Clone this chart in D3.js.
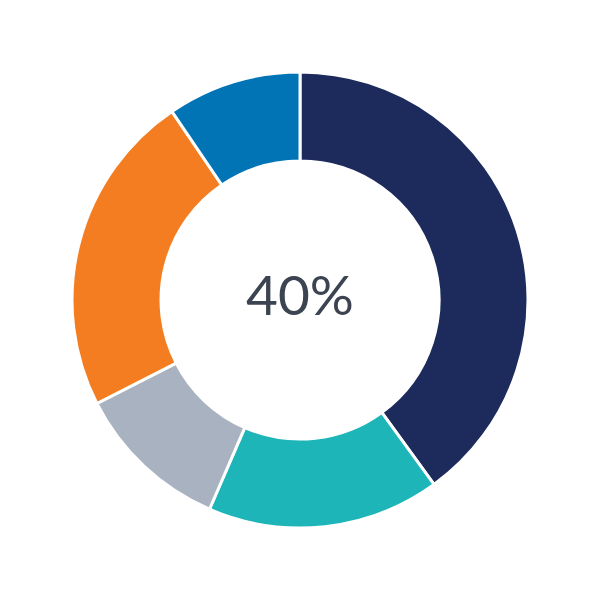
<!DOCTYPE html>
<html>
<head>
<meta charset="utf-8">
<script src="https://cdn.jsdelivr.net/npm/d3@7"></script>
<style>
  body { margin: 0; background: #fff; }
</style>
</head>
<body>
<div class="canvas"></div>
<script>
const categories = ["A", "B", "C", "D", "E"];
const values = [40, 16.5, 11, 23, 9.5];
const colors = ["#1c2b5b", "#1db5b8", "#a8b2c0", "#f37d20", "#0174b6"];
const centerLabel = "40%";

const width = 600;
const height = 600;
const outer = 228;
const inner = 139;

const svg = d3
  .select(".canvas")
  .append("svg")
  .attr("width", width)
  .attr("height", height);

const chart = svg
  .append("g")
  .attr("transform", `translate(${width / 2}, ${height / 2})`);

const pie = d3.pie().sort(null).value((d) => d.value);
const arc = d3.arc().innerRadius(inner).outerRadius(outer);

const data = categories.map((c, i) => ({ name: c, value: values[i] }));

chart
  .selectAll("path")
  .data(pie(data))
  .enter()
  .append("path")
  .attr("d", arc)
  .style("fill", (d, i) => colors[i])
  .style("stroke", "#fff")
  .style("stroke-width", 3);

chart
  .append("text")
  .attr("text-anchor", "middle")
  .attr("dy", "0.28em")
  .style("font-family", "Lato, sans-serif")
  .style("font-weight", 400)
  .style("font-size", "55px")
  .style("fill", "#3d4451")
  .text(centerLabel);
</script>
</body>
</html>
